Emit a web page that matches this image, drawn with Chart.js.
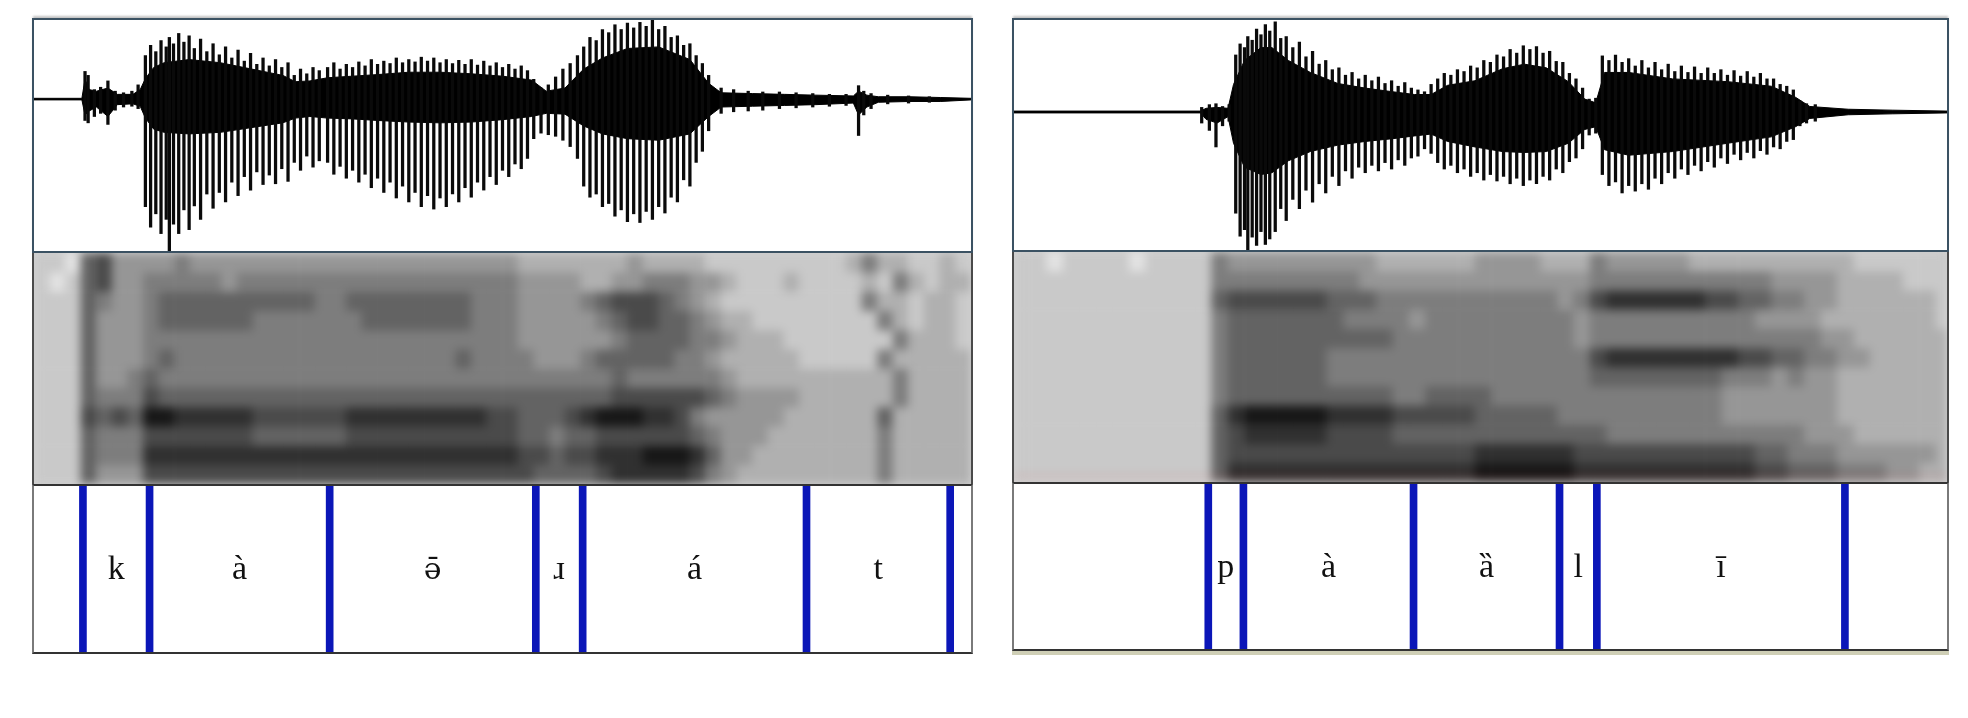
<!DOCTYPE html>
<html lang="en">
<head>
<meta charset="UTF-8">
<title>Waveform, spectrogram and segmentation</title>
<script src="https://cdn.jsdelivr.net/npm/chart.js"></script>
<style>
  html, body { margin: 0; padding: 0; background: #fff; }
  body { width: 1968px; height: 718px; position: relative; overflow: hidden; }
  .box { position: absolute; box-sizing: border-box; overflow: hidden; }
  .box canvas { display: block; }
  .wave { border: 2px solid #3b5263; background: #fff; box-shadow: 0 -3px 2px -1px #c4c4c4; }
  .spec { border-left: 2px solid #4a4a4a; border-right: 2px solid #4a4a4a; background: #d2d2d2; }
  .spec canvas { filter: blur(5px); }
  .tier { border: 2px solid #7a7a7a; border-top-color: #333; border-bottom-color: #333; background: #fff; }
  .strip { position: absolute; background: #cfcfb6; }
</style>
</head>
<body>
<script>
// ---------- left word: k à ə̄ ɹ á t  (time in ms) ----------
const leftDuration = 900;
const leftBounds = [47, 111, 284, 482, 527, 742, 880];
const leftLabels = ['k', 'à', 'ə̄', 'ɹ', 'á', 't'];
const leftAmpRange = [-1.92, 1];

const leftCoreTime = [0, 46, 49, 53, 60, 71, 80, 95, 102, 107, 115, 125, 149, 179, 209, 239, 251, 265, 282, 306, 330, 360, 390, 420, 450, 478, 492, 510, 528, 546, 570, 600, 630, 648, 660, 690, 721, 751, 787, 792, 800, 811, 841, 871, 900];
const leftCoreHigh = [0.01, 0.01, 0.25, 0.12, 0.10, 0.14, 0.06, 0.06, 0.12, 0.26, 0.40, 0.46, 0.50, 0.46, 0.38, 0.30, 0.22, 0.23, 0.27, 0.29, 0.31, 0.34, 0.34, 0.32, 0.29, 0.24, 0.10, 0.14, 0.38, 0.52, 0.64, 0.66, 0.50, 0.20, 0.08, 0.07, 0.06, 0.05, 0.04, 0.10, 0.05, 0.03, 0.03, 0.02, 0.01];
const leftCoreLow = [-0.01, -0.01, -0.20, -0.15, -0.10, -0.22, -0.07, -0.06, -0.09, -0.24, -0.38, -0.42, -0.44, -0.42, -0.36, -0.30, -0.24, -0.22, -0.24, -0.25, -0.27, -0.29, -0.30, -0.29, -0.26, -0.22, -0.18, -0.19, -0.34, -0.44, -0.50, -0.52, -0.44, -0.22, -0.10, -0.09, -0.08, -0.07, -0.05, -0.20, -0.10, -0.04, -0.03, -0.03, -0.01];

const leftSpikeTime = [49, 52, 58, 64, 71, 78, 86, 94, 100,
  107, 112, 117, 122, 127, 130, 134, 139, 144, 149, 154, 160, 166, 172, 178, 184, 190, 196, 202, 208, 214, 220, 226, 232, 238, 244, 250, 256, 262, 268, 274,
  282, 288, 294, 300, 306, 312, 318, 324, 330, 336, 342, 348, 354, 360, 366, 372, 378, 384, 390, 396, 402, 408, 414, 420, 426, 432, 438, 444, 450, 456, 462, 468, 474,
  480, 487, 494, 501, 508, 515, 522,
  528, 534, 540, 546, 552, 558, 564, 570, 576, 582, 588, 594, 600, 606, 612, 618, 624, 630, 636, 642, 648,
  660, 672, 686, 700, 716, 732, 748, 764, 780, 792, 797, 804, 820, 840, 860];
const leftSpikeLow = [-0.27, -0.30, -0.22, -0.18, -0.32, -0.14, -0.10, -0.09, -0.12,
  -1.36, -1.62, -1.45, -1.70, -1.52, -1.92, -1.58, -1.70, -1.40, -1.65, -1.35, -1.52, -1.20, -1.38, -1.18, -1.30, -1.05, -1.22, -0.98, -1.15, -0.92, -1.08, -0.96, -1.07, -0.88, -1.04, -0.80, -0.90, -0.72, -0.86, -0.78,
  -0.80, -0.95, -0.85, -1.00, -0.90, -1.05, -0.95, -1.12, -1.00, -1.18, -1.05, -1.25, -1.10, -1.30, -1.18, -1.36, -1.22, -1.39, -1.25, -1.36, -1.20, -1.30, -1.12, -1.24, -1.05, -1.15, -0.98, -1.08, -0.90, -0.98, -0.82, -0.88, -0.75,
  -0.50, -0.43, -0.45, -0.47, -0.52, -0.60, -0.75,
  -1.10, -1.24, -1.20, -1.36, -1.32, -1.48, -1.40, -1.55, -1.45, -1.56, -1.42, -1.52, -1.36, -1.44, -1.24, -1.30, -1.02, -1.10, -0.80, -0.66, -0.40,
  -0.18, -0.16, -0.15, -0.14, -0.12, -0.11, -0.10, -0.09, -0.08, -0.46, -0.20, -0.12, -0.06, -0.05, -0.04];
const leftSpikeHigh = [0.35, 0.30, 0.12, 0.15, 0.23, 0.10, 0.08, 0.10, 0.18,
  0.55, 0.68, 0.60, 0.74, 0.66, 0.78, 0.70, 0.83, 0.72, 0.80, 0.64, 0.76, 0.60, 0.70, 0.56, 0.66, 0.52, 0.62, 0.48, 0.58, 0.44, 0.52, 0.42, 0.50, 0.40, 0.46, 0.30, 0.38, 0.32, 0.40, 0.36,
  0.40, 0.46, 0.38, 0.44, 0.40, 0.47, 0.42, 0.50, 0.44, 0.48, 0.45, 0.52, 0.46, 0.50, 0.47, 0.53, 0.48, 0.52, 0.46, 0.50, 0.45, 0.49, 0.44, 0.50, 0.43, 0.48, 0.42, 0.46, 0.40, 0.44, 0.38, 0.42, 0.36,
  0.25, 0.14, 0.18, 0.28, 0.38, 0.45, 0.55,
  0.66, 0.78, 0.74, 0.88, 0.84, 0.94, 0.88, 0.96, 0.90, 0.97, 0.92, 1.00, 0.88, 0.92, 0.78, 0.80, 0.68, 0.70, 0.55, 0.45, 0.30,
  0.14, 0.12, 0.10, 0.09, 0.09, 0.08, 0.07, 0.06, 0.06, 0.17, 0.10, 0.07, 0.05, 0.04, 0.03];

// spectrogram darkness 0..9, 15 ms columns, 500 Hz bands, top band first
const leftSpec = [
  '221674444544444444444444444444433333334333322222222235332232',
  '212674455555455555555555555555544443344555443222322223253233',
  '222654456666666666556666666655544445677765432222222225332332',
  '222644456666665555555666666655544444567766543322222222532332',
  '222644455555555555555555555555544444456666554333222222253332',
  '222644456555555555555555555655554445666665543333322222533333',
  '222644565555555555555555555555555555565555554333333333353333',
  '222655576666666666666666666666666666677777765444433333353333',
  '222767699888887777778888888887766678999887544444333333633333',
  '222655577777776666667777777777766566777777654443333333533333',
  '222655588888888888888888888888877677888999864433333333533333',
  '222644477777777777777777777777776666788888754333333333533333'
];

// ---------- right word: p à ȁ l ī ----------
const rightDuration = 850;
const rightBounds = [177, 209, 364, 497, 531, 757];
const rightLabels = ['p', 'à', 'ȁ', 'l', 'ī'];
const rightAmpRange = [-1.5, 1];

const rightCoreTime = [0, 170, 175, 185, 195, 200, 210, 225, 235, 250, 270, 295, 320, 345, 365, 380, 395, 420, 445, 465, 485, 505, 520, 530, 538, 560, 600, 650, 690, 712, 725, 760, 800, 850];
const rightCoreHigh = [0.01, 0.01, 0.04, 0.05, 0.04, 0.30, 0.56, 0.70, 0.70, 0.56, 0.43, 0.31, 0.26, 0.22, 0.19, 0.19, 0.29, 0.34, 0.47, 0.52, 0.48, 0.33, 0.14, 0.10, 0.43, 0.43, 0.36, 0.33, 0.28, 0.16, 0.06, 0.03, 0.02, 0.01];
const rightCoreLow = [-0.01, -0.01, -0.08, -0.12, -0.05, -0.34, -0.60, -0.68, -0.66, -0.53, -0.43, -0.36, -0.32, -0.29, -0.26, -0.24, -0.32, -0.38, -0.43, -0.44, -0.43, -0.34, -0.19, -0.16, -0.41, -0.47, -0.43, -0.34, -0.27, -0.16, -0.07, -0.03, -0.02, -0.01];

const rightSpikeTime = [171, 178, 184, 190, 196,
  202, 206, 210, 213, 217, 221, 225, 229, 233, 238, 243, 248, 254, 260, 266, 272, 278, 284, 290, 296, 302, 308, 314, 320, 326, 332, 338, 344, 350, 356, 362, 368, 374, 380,
  386, 392, 398, 404, 410, 416, 422, 428, 434, 440, 446, 452, 458, 464, 470, 476, 482, 488, 494, 500, 506, 512, 518,
  524, 530,
  536, 542, 548, 554, 560, 566, 572, 578, 584, 590, 596, 602, 608, 614, 620, 626, 632, 638, 644, 650, 656, 662, 668, 674, 680, 686, 692, 698, 704, 710, 716, 722, 730];
const rightSpikeLow = [-0.12, -0.20, -0.38, -0.15, -0.10,
  -1.10, -1.35, -1.28, -1.50, -1.36, -1.45, -1.30, -1.44, -1.38, -1.30, -1.05, -1.18, -0.95, -1.05, -0.85, -0.98, -0.78, -0.88, -0.70, -0.80, -0.64, -0.72, -0.60, -0.66, -0.58, -0.64, -0.55, -0.62, -0.52, -0.58, -0.50, -0.48, -0.40, -0.45,
  -0.55, -0.62, -0.58, -0.66, -0.62, -0.70, -0.66, -0.74, -0.68, -0.75, -0.70, -0.78, -0.72, -0.80, -0.74, -0.78, -0.70, -0.74, -0.62, -0.66, -0.54, -0.50, -0.40,
  -0.25, -0.23,
  -0.68, -0.80, -0.76, -0.88, -0.80, -0.86, -0.78, -0.84, -0.72, -0.78, -0.66, -0.72, -0.62, -0.68, -0.58, -0.64, -0.54, -0.60, -0.50, -0.56, -0.46, -0.52, -0.44, -0.50, -0.42, -0.46, -0.38, -0.40, -0.32, -0.30, -0.15, -0.12, -0.10];
const rightSpikeHigh = [0.05, 0.08, 0.09, 0.06, 0.08,
  0.62, 0.74, 0.70, 0.82, 0.78, 0.90, 0.84, 0.95, 0.88, 0.98, 0.80, 0.82, 0.70, 0.76, 0.60, 0.66, 0.52, 0.56, 0.46, 0.48, 0.40, 0.43, 0.36, 0.40, 0.34, 0.38, 0.31, 0.34, 0.28, 0.32, 0.26, 0.24, 0.22, 0.30,
  0.36, 0.42, 0.40, 0.46, 0.44, 0.50, 0.48, 0.56, 0.54, 0.62, 0.60, 0.68, 0.64, 0.72, 0.68, 0.71, 0.64, 0.66, 0.55, 0.54, 0.42, 0.36, 0.26,
  0.14, 0.15,
  0.61, 0.56, 0.62, 0.54, 0.58, 0.50, 0.56, 0.48, 0.54, 0.46, 0.52, 0.44, 0.50, 0.43, 0.49, 0.42, 0.48, 0.42, 0.46, 0.40, 0.45, 0.39, 0.44, 0.38, 0.42, 0.36, 0.36, 0.30, 0.28, 0.24, 0.12, 0.09, 0.08];

const rightSpec = [
  '221222212222544444444433333344443335444443333333333222222',
  '222222222222555555555444444444444445555555555544443333222',
  '222222222222677777766655555555555457888888776655443333332',
  '222222222222566666665555455555555545555555555444433333332',
  '222222222222566666666665555555555545555555555555544333333',
  '222222222222566666655555555555555557888888887766554433333',
  '222222222222566666655555555555555556666666655545443333333',
  '222222222222566666666665566665555555555555544444443333333',
  '222222222222689999988887777766666555555555544444443333333',
  '222222222222678888877776666666666666555555555555444333333',
  '222222222222677777777777777788888877777777777665554444443',
  '222222222222688888888888888899999988888888888776665554433'
];
const rightMarkTime = [0, 850];
const rightMarkHz = [150, 150];

const specColMs = 15;
const specBandHz = 500;

// ---------- helpers ----------
const tierLabelPlugin = {
  id: 'tierLabels',
  afterDatasetsDraw(chart, args, opts) {
    if (!opts.labels) return;
    const ctx = chart.ctx, x = chart.scales.x, area = chart.chartArea;
    ctx.save();
    ctx.fillStyle = '#111';
    ctx.textAlign = 'center';
    ctx.textBaseline = 'alphabetic';
    const base = (area.top + area.bottom) / 2 + 10;
    opts.labels.forEach((lab, i) => {
      // Liberation Serif misplaces combining marks, DejaVu Serif stacks them properly
      ctx.font = /\p{M}/u.test(lab) ? '30px "DejaVu Serif", serif' : '34px "Liberation Serif", serif';
      const mid = (opts.bounds[i] + opts.bounds[i + 1]) / 2;
      ctx.fillText(lab, x.getPixelForValue(mid), base);
    });
    ctx.restore();
  }
};
Chart.register(tierLabelPlugin);

function addBox(cls, left, top, w, h) {
  const div = document.createElement('div');
  div.className = 'box ' + cls;
  Object.assign(div.style, { left: left + 'px', top: top + 'px', width: w + 'px', height: h + 'px' });
  const cv = document.createElement('canvas');
  cv.width = w - 4;
  cv.height = h - (cls === 'spec' ? 0 : 4);
  div.appendChild(cv);
  document.body.appendChild(div);
  return cv;
}

function baseOptions(dur, ymin, ymax) {
  return {
    responsive: false,
    animation: false,
    events: [],
    layout: { padding: 0 },
    plugins: { legend: { display: false }, tooltip: { enabled: false } },
    scales: {
      x: { type: 'linear', min: 0, max: dur, offset: false, display: false },
      y: { min: ymin, max: ymax, display: false }
    }
  };
}

function waveChart(cv, dur, range, coreT, coreHi, coreLo, spT, spLo, spHi) {
  new Chart(cv, {
    type: 'bar',
    data: {
      datasets: [
        { type: 'line', data: coreT.map((t, i) => ({ x: t, y: coreHi[i] })), borderColor: '#000', borderWidth: 1,
          pointRadius: 0, fill: '+1', backgroundColor: '#000', order: 2 },
        { type: 'line', data: coreT.map((t, i) => ({ x: t, y: coreLo[i] })), borderColor: '#000', borderWidth: 1,
          pointRadius: 0, fill: false, order: 2 },
        { type: 'bar', data: spT.map((t, i) => ({ x: t, y: [spLo[i], spHi[i]] })), backgroundColor: '#0a0a0a',
          barThickness: 2.6, borderWidth: 0, order: 1 }
      ]
    },
    options: baseOptions(dur, range[0], range[1])
  });
}

function gray(v) {
  const g = Math.round(252 - v * 25.5);
  return `rgb(${g},${g},${g})`;
}

function specChart(cv, dur, rows, mark) {
  const nBands = rows.length;
  const datasets = rows.map((row, r) => {
    const band = nBands - 1 - r;
    const vals = row.split('').map(Number);
    return {
      type: 'bar',
      data: vals.map((v, c) => ({ x: c * specColMs + specColMs / 2, y: [band * specBandHz, (band + 1) * specBandHz] })),
      backgroundColor: vals.map(gray),
      barPercentage: 1, categoryPercentage: 1, grouped: false, borderWidth: 0, order: 2
    };
  });
  if (mark) {
    datasets.push({ type: 'line', data: mark[0].map((t, i) => ({ x: t, y: mark[1][i] })), borderColor: '#d23a3a',
      borderWidth: 1, borderDash: [2, 2], pointRadius: 0, fill: false, order: 1 });
  }
  new Chart(cv, { type: 'bar', data: { datasets }, options: baseOptions(dur, 0, nBands * specBandHz) });
}

function tierChart(cv, dur, bounds, labels) {
  const opts = baseOptions(dur, 0, 1);
  opts.plugins.tierLabels = { labels, bounds };
  new Chart(cv, {
    type: 'bar',
    data: {
      datasets: [{ data: bounds.map(b => ({ x: b, y: [0, 1] })), backgroundColor: '#0b16b8', barThickness: 7, borderWidth: 0 }]
    },
    options: opts
  });
}

// ---------- left panel ----------
waveChart(addBox('wave', 32, 18, 941, 235), leftDuration, leftAmpRange,
  leftCoreTime, leftCoreHigh, leftCoreLow, leftSpikeTime, leftSpikeLow, leftSpikeHigh);
specChart(addBox('spec', 32, 253, 941, 231), leftDuration, leftSpec, null);
tierChart(addBox('tier', 32, 484, 941, 170), leftDuration, leftBounds, leftLabels);

// ---------- right panel ----------
waveChart(addBox('wave', 1012, 18, 937, 234), rightDuration, rightAmpRange,
  rightCoreTime, rightCoreHigh, rightCoreLow, rightSpikeTime, rightSpikeLow, rightSpikeHigh);
specChart(addBox('spec', 1012, 252, 937, 230), rightDuration, rightSpec, [rightMarkTime, rightMarkHz]);
tierChart(addBox('tier', 1012, 482, 937, 169), rightDuration, rightBounds, rightLabels);

const strip = document.createElement('div');
strip.className = 'strip';
Object.assign(strip.style, { left: '1012px', top: '651px', width: '937px', height: '4px' });
document.body.appendChild(strip);
</script>
</body>
</html>
